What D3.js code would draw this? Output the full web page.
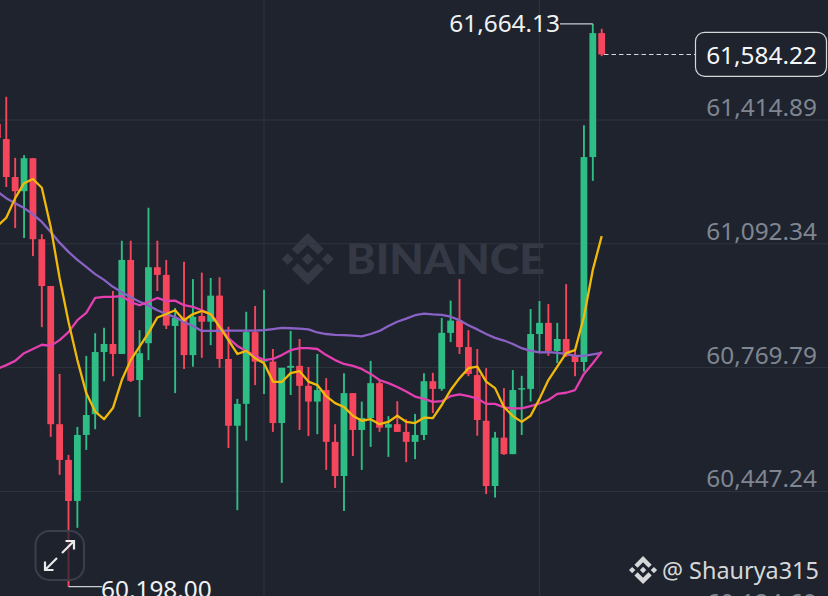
<!DOCTYPE html>
<html><head><meta charset="utf-8">
<script src="https://cdn.jsdelivr.net/npm/d3@7"></script>
<style>html,body{margin:0;padding:0;background:#1e232d;overflow:hidden}svg{display:block}</style>
</head><body><svg id="c" width="828" height="596"></svg>
<script>
const tickValues=[61414.89,61092.34,60769.79,60447.24,60124.69];
const lastPrice=61584.22, highLabel=61664.13, lowLabel=60198.00;
const opens=[61403,61364,61265,61228,61314,61103,60981,60621,60528,60421,60593,60647,60809,60830,60804,61049,60736,60832,61030,61010,60877,60898,60801,60903,60888,60956,60791,60617,60674,60861,60784,60784,60624,60768,60773,60721,60680,60710,60575,60486,60702,60606,60637,60728,60612,60621,60601,60575,60593,60733,60713,60859,60891,60822,60749,60630,60460,60586,60543,60713,60713,60856,60885,60812,60843,60799,60783,61317,61640];
const closes=[61367,61265,61228,61314,61103,60981,60621,60528,60421,60593,60645,60809,60830,60804,61049,60734,60806,61030,61010,60878,60898,60801,60901,60888,60956,60791,60617,60674,60861,60784,60791,60624,60768,60773,60721,60680,60710,60575,60486,60702,60606,60637,60728,60612,60621,60601,60575,60593,60733,60713,60859,60891,60822,60752,60632,60460,60586,60543,60710,60715,60856,60885,60812,60843,60799,60783,61317,61640,61584.22];
const highs=[61403,61474,61315,61322,61314,61116,60981,60752,60541,60614,60799,60858,60872,60968,61099,61099,60866,61185,61099,61049,60924,61044,60999,61016,61002,61004,60875,60687,60914,60929,60971,60817,60768,60864,60843,60770,60804,60741,60621,60754,60702,60680,60786,60734,60642,60681,60634,60648,60754,60755,60898,60943,60999,60866,60817,60767,60601,60715,60762,60747,60921,60942,60934,60885,60986,60814,61400,61664.13,61651];
const lows=[61367,61239,61132,61106,61059,60874,60588,60489,60198,60351,60554,60608,60733,60746,60804,60731,60640,60788,60968,60869,60702,60765,60771,60794,60827,60768,60559,60397,60578,60723,60700,60601,60468,60697,60606,60590,60595,60502,60455,60395,60538,60502,60562,60601,60536,60601,60522,60530,60580,60650,60708,60835,60804,60746,60591,60439,60430,60541,60543,60593,60680,60806,60799,60780,60796,60746,60758,61255,61580];
const ma7=[61137,61159,61210,61249,61260,61237,61135,61002,60888,60788,60702,60654,60634,60663,60736,60788,60823,60859,60899,60908,60918,60892,60908,60916,60908,60875,60840,60804,60812,60793,60780,60732,60731,60754,60759,60732,60723,60694,60676,60666,60643,60630,60634,60621,60627,60643,60627,60624,60638,60637,60671,60710,60741,60767,60771,60732,60715,60666,60642,60627,60643,60687,60736,60771,60806,60814,60901,61023,61111];
const ma25=[60765,60775,60786,60806,60817,60828,60825,60840,60861,60892,60911,60950,60953,60953,60955,60939,60931,60940,60950,60942,60943,60931,60927,60918,60908,60879,60845,60825,60812,60799,60788,60791,60801,60814,60819,60819,60817,60801,60788,60778,60773,60765,60752,60736,60728,60718,60706,60693,60687,60679,60681,60694,60699,60694,60688,60674,60674,60665,60662,60662,60668,60675,60684,60700,60703,60710,60752,60780,60810];
const ma99=[61227,61210,61197,61184,61168,61148,61122,61094,61070,61049,61031,61012,60997,60979,60965,60952,60940,60930,60918,60908,60900,60887,60877,60864,60864,60864,60865,60865,60865,60865,60866,60869,60872,60871,60870,60868,60860,60856,60854,60853,60852,60850,60856,60864,60877,60888,60896,60905,60909,60907,60906,60901,60892,60879,60868,60856,60846,60839,60830,60819,60812,60808,60809,60807,60804,60799,60799,60803,60807];

const W=828,H=596,FONT='"Noto Sans","Open Sans",sans-serif',FS=24.4;
const GREEN='#2ebd85',RED='#f6465d',GRID='#30353f',TICK='#7f8692',BG='#1e232d';
const svg=d3.select('#c');
svg.append('rect').attr('width',W).attr('height',H).attr('fill',BG);

const x=d3.scaleLinear().domain([0,68]).range([-2.6,601.7]);
const y=d3.scaleLinear().domain([60124.69,61414.89]).range([614.7,119.5]);
const idx=d3.range(opens.length);
const fmt=d3.format(',.2f');
const LOGO='M38.73 53.2l24.59-24.58 24.6 24.6 14.3-14.31L63.32 0 24.43 38.9zM0 63.31l14.3-14.31 14.31 14.31-14.31 14.3zM38.73 73.41l24.59 24.59 24.6-24.6 14.31 14.29-38.9 38.91-38.91-38.88-.02-.02zM98.01 63.31l14.3-14.3 14.3 14.3-14.3 14.3zM77.83 63.3L63.32 48.78 52.59 59.51l-1.24 1.23-2.54 2.54 14.51 14.5 14.51-14.47z';

// watermark
svg.append('path').attr('d',LOGO).attr('fill','#343945').attr('transform','translate(281.7,233) scale(0.411)');
svg.append('text').attr('x',346).attr('y',274).text('BINANCE').attr('fill','#343945')
  .attr('font-family','Lato,sans-serif').attr('font-weight',900).attr('font-size',41.5)
  .attr('textLength',199).attr('lengthAdjust','spacingAndGlyphs');

// grid
const vGrid=[264,539.6];
svg.append('g').selectAll('line').data(vGrid).join('line')
  .attr('x1',d=>d).attr('x2',d=>d).attr('y1',0).attr('y2',H).attr('stroke',GRID).attr('stroke-width',1);
const axis=d3.axisRight(y).tickValues(tickValues).tickSize(W).tickFormat(fmt);
const gAxis=svg.append('g').call(axis);
gAxis.select('.domain').remove();
gAxis.selectAll('.tick line').attr('stroke',GRID).attr('stroke-width',1);
gAxis.selectAll('.tick text').attr('x',817).attr('y',-4).attr('dy',0).attr('text-anchor','end')
  .attr('fill',TICK).attr('font-family',FONT).attr('font-size',FS);

// candles
const up=i=>closes[i]>=opens[i];
const g=svg.append('g');
g.selectAll('line.w').data(idx).join('line').attr('class','w')
  .attr('x1',i=>x(i)).attr('x2',i=>x(i)).attr('y1',i=>y(highs[i])).attr('y2',i=>y(lows[i]))
  .attr('stroke',i=>up(i)?GREEN:RED).attr('stroke-width',1.9);
g.selectAll('rect').data(idx).join('rect')
  .attr('x',i=>x(i)-3.4).attr('width',6.8)
  .attr('y',i=>y(Math.max(opens[i],closes[i])))
  .attr('height',i=>Math.max(1.5,Math.abs(y(opens[i])-y(closes[i]))))
  .attr('fill',i=>up(i)?GREEN:RED);

// moving averages
const line=d3.line().x((d,i)=>x(i)).y(d=>y(d));
[[ma99,'#8a62c6'],[ma25,'#e33fb0'],[ma7,'#f0b90b']].forEach(([s,c])=>{
  svg.append('path').attr('d',line(s)).attr('fill','none').attr('stroke',c).attr('stroke-width',2.3).attr('stroke-linejoin','round');
});

// high / low markers
const hiI=highs.indexOf(highLabel), loI=lows.indexOf(lowLabel);
svg.append('line').attr('x1',x(hiI)).attr('x2',560).attr('y1',y(highLabel)).attr('y2',y(highLabel)).attr('stroke','#c9ccd1').attr('stroke-width',1.2);
svg.append('text').attr('x',560).attr('y',y(highLabel)+8.5).attr('text-anchor','end').text(fmt(highLabel))
  .attr('fill','#f0f1f3').attr('font-family',FONT).attr('font-size',FS);
svg.append('line').attr('x1',x(loI)).attr('x2',102).attr('y1',y(lowLabel)).attr('y2',y(lowLabel)).attr('stroke','#c9ccd1').attr('stroke-width',1.2);
svg.append('text').attr('x',101).attr('y',y(lowLabel)+11).text(fmt(lowLabel))
  .attr('fill','#f0f1f3').attr('font-family',FONT).attr('font-size',FS);

// last price tag
const ly=y(lastPrice);
svg.append('line').attr('x1',604).attr('x2',696).attr('y1',ly).attr('y2',ly).attr('stroke','#d5d7db').attr('stroke-width',1.2).attr('stroke-dasharray','4.5 3');
svg.append('rect').attr('x',695.5).attr('y',32.3).attr('width',131).attr('height',44).attr('rx',9).attr('fill',BG).attr('stroke','#d5d7db').attr('stroke-width',1.2);
svg.append('text').attr('x',761.5).attr('y',ly+9).attr('text-anchor','middle').text(fmt(lastPrice))
  .attr('fill','#f5f6f7').attr('font-family',FONT).attr('font-size',FS);

// expand button
svg.append('rect').attr('x',35.5).attr('y',531).attr('width',48.5).attr('height',49).attr('rx',14)
  .attr('fill',BG).attr('fill-opacity',.72).attr('stroke','#3a3f4a').attr('stroke-width',2);
const icon=svg.append('g').attr('fill','none').attr('stroke','#e8e9eb').attr('stroke-width',2.2);
icon.append('path').attr('d','M62 553L74 541M65.5 541H74V549.5');
icon.append('path').attr('d','M57 558L45 570M53.5 570H45V561.5');

// attribution
svg.append('path').attr('d',LOGO).attr('fill','#d6d7d9').attr('transform','translate(629,556) scale(0.222)');
svg.append('text').attr('x',662).attr('y',578.5).text('@ Shaurya315').attr('fill','#d6d7d9')
  .attr('font-family',FONT).attr('font-size',23.4);
</script></body></html>
